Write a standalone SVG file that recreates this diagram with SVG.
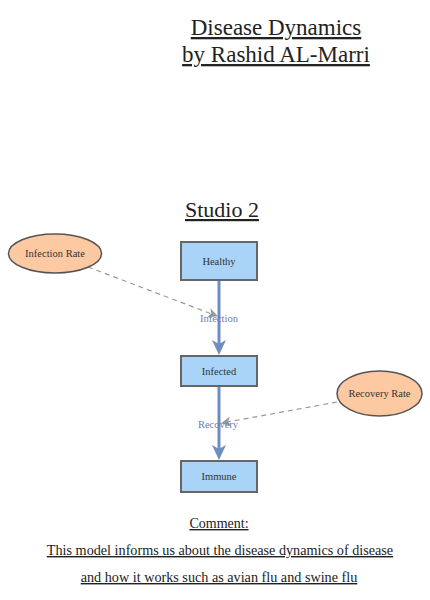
<svg xmlns="http://www.w3.org/2000/svg" width="430" height="600" viewBox="0 0 430 600">
<style>
text{font-family:'Liberation Serif','Times New Roman',serif}
.t{fill:#222;text-anchor:middle;text-decoration:underline}
.box{fill:#a9d4f7;stroke:#666;stroke-width:2}
.ell{fill:#fcc9a3;stroke:#555;stroke-width:1.5}
.nl{font-size:10.5px;fill:#333;text-anchor:middle}
.flow{stroke:#6c8ebf;stroke-width:3;fill:none}
.head{fill:#6c8ebf}
.dash{stroke:#999;stroke-width:1.2;stroke-dasharray:5 4;fill:none}
.fl{font-size:10.5px;fill:#6c7fb0;text-anchor:middle}
</style>
<defs>
<marker id="ag" viewBox="0 0 10 10" refX="9" refY="5" markerWidth="10" markerHeight="10" orient="auto" markerUnits="userSpaceOnUse"><path d="M0,0 L10,5 L0,10 L3,5 Z" fill="#999"/></marker>
</defs>
<text class="t" x="276" y="35" font-size="23">Disease Dynamics</text>
<text class="t" x="276" y="62" font-size="23">by Rashid AL-Marri</text>
<text class="t" x="222" y="217" font-size="22">Studio 2</text>
<g id="connectors">
<path class="flow" d="M219,281 V344"/>
<path class="head" d="M212,340 L219,355 L226,340 L219,344 Z"/>
<path class="flow" d="M219,387 V449"/>
<path class="head" d="M212,445 L219,460 L226,445 L219,449 Z"/>
<path class="dash" d="M88,267 L217,316" marker-end="url(#ag)"/>
<path class="dash" d="M337,402 L222,423" marker-end="url(#ag)"/>
<text class="fl" x="219" y="322">Infection</text>
<text class="fl" x="218" y="428">Recovery</text>
</g>
<g id="healthy"><rect class="box" x="181" y="242" width="76" height="38"/><text class="nl" x="219" y="265">Healthy</text></g>
<g id="infected"><rect class="box" x="181" y="356" width="76" height="30"/><text class="nl" x="219" y="375">Infected</text></g>
<g id="immune"><rect class="box" x="181" y="461" width="76" height="31"/><text class="nl" x="219" y="480">Immune</text></g>
<g id="infection-rate"><ellipse class="ell" cx="55" cy="253.5" rx="46.5" ry="19.5"/><text class="nl" x="55" y="257">Infection Rate</text></g>
<g id="recovery-rate"><ellipse class="ell" cx="379.5" cy="393.5" rx="42.5" ry="22.5"/><text class="nl" x="379.5" y="397">Recovery Rate</text></g>
<text class="t" x="219" y="528" font-size="14">Comment:</text>
<text class="t" x="220" y="555" font-size="14.2">This model informs us about the disease dynamics of disease</text>
<text class="t" x="219" y="582" font-size="14.2">and how it works such as avian flu and swine flu</text>
</svg>
